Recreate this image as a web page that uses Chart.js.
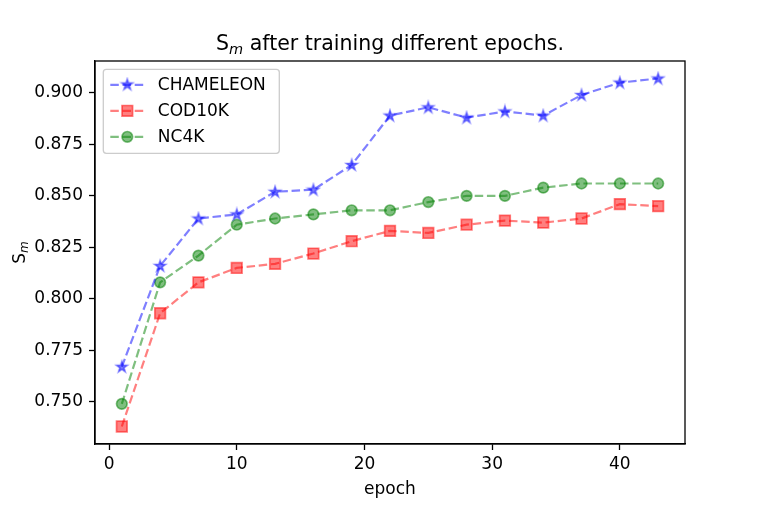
<!DOCTYPE html>
<html>
<head>
<meta charset="utf-8">
<script src="https://cdn.jsdelivr.net/npm/chart.js@4/dist/chart.umd.min.js"></script>
<style>
  html, body { margin: 0; padding: 0; background: #ffffff; }
  canvas { display: block; }
</style>
</head>
<body>
<canvas id="chart" width="761" height="508"></canvas>
<script>
// values
const epochs = [1, 4, 7, 10, 13, 16, 19, 22, 25, 28, 31, 34, 37, 40, 43];
const chameleon = [0.767, 0.816, 0.839, 0.841, 0.852, 0.853, 0.865, 0.889, 0.893, 0.888, 0.891, 0.889, 0.899, 0.905, 0.907];
const cod10k = [0.738, 0.793, 0.808, 0.815, 0.817, 0.822, 0.828, 0.833, 0.832, 0.836, 0.838, 0.837, 0.839, 0.846, 0.845];
const nc4k = [0.749, 0.808, 0.821, 0.836, 0.839, 0.841, 0.843, 0.843, 0.847, 0.850, 0.850, 0.854, 0.856, 0.856, 0.856];
const seriesNames = ["CHAMELEON", "COD10K", "NC4K"];

const FONT = "'DejaVu Sans', sans-serif";
const BLUE = "rgba(0, 0, 255, 0.5)";
const RED = "rgba(255, 0, 0, 0.5)";
const GREEN = "rgba(0, 128, 0, 0.5)";
const DASH = [8.5, 3.7];
const LW = 2.2;

// filled 5 point star like matplotlib's "*" marker
function makeStar(color) {
  const c = document.createElement("canvas");
  c.width = 16;
  c.height = 16;
  const g = c.getContext("2d");
  const R = 5.6, r = R * 0.381966;
  g.beginPath();
  for (let i = 0; i < 10; i++) {
    const rad = i % 2 === 0 ? R : r;
    const a = -Math.PI / 2 + (i * Math.PI) / 5;
    const px = 8 + rad * Math.cos(a), py = 8.3 + rad * Math.sin(a);
    if (i === 0) g.moveTo(px, py); else g.lineTo(px, py);
  }
  g.closePath();
  g.fillStyle = color;
  g.fill();
  g.lineWidth = 1.6;
  g.lineJoin = "miter";
  g.strokeStyle = color;
  g.stroke();
  return c;
}
const star = makeStar(BLUE);

function toPoints(values) {
  return epochs.map((e, i) => ({ x: e, y: values[i] }));
}

const ctx = document.getElementById("chart").getContext("2d");

// frame, title, y label and the legend box (drawn the matplotlib way)
const decor = {
  id: "decor",
  afterDatasetsDraw: (chart) => {
    const a = chart.chartArea;
    const c = chart.ctx;
    c.save();

    // all four spines
    c.strokeStyle = "#000";
    c.lineWidth = 1.3;
    c.strokeRect(a.left, a.top, a.right - a.left, a.bottom - a.top);

    // title with subscript m
    const cx = (a.left + a.right) / 2;
    const by = a.top - 11;
    c.fillStyle = "#000";
    c.textBaseline = "alphabetic";
    c.textAlign = "left";
    const big = "20.5px " + FONT, sub = "italic 14.5px " + FONT;
    const rest = " after training different epochs.";
    c.font = big;
    const wS = c.measureText("S").width, wR = c.measureText(rest).width;
    c.font = sub;
    const wm = c.measureText("m").width;
    let x0 = cx - (wS + wm + wR) / 2;
    c.font = big;
    c.fillText("S", x0, by);
    c.font = sub;
    c.fillText("m", x0 + wS, by + 3.5);
    c.font = big;
    c.fillText(rest, x0 + wS + wm, by);

    // y axis label
    c.save();
    c.translate(25, (a.top + a.bottom) / 2);
    c.rotate(-Math.PI / 2);
    c.font = "17px " + FONT;
    const ws = c.measureText("S").width;
    c.font = "italic 12px " + FONT;
    const wm2 = c.measureText("m").width;
    const sx = -(ws + wm2) / 2;
    c.font = "17px " + FONT;
    c.fillText("S", sx, 0);
    c.font = "italic 12px " + FONT;
    c.fillText("m", sx + ws, 3);
    c.restore();

    // legend
    const lx = a.left + 8.3, ly = a.top + 8.3;
    const lw = 176, lh = 84;
    c.beginPath();
    c.roundRect(lx, ly, lw, lh, 3);
    c.fillStyle = "rgba(255,255,255,0.8)";
    c.fill();
    c.strokeStyle = "#cccccc";
    c.lineWidth = 1.3;
    c.stroke();

    const colors = [BLUE, RED, GREEN];
    const hx0 = lx + 7, hx1 = hx0 + 34, mx = (hx0 + hx1) / 2;
    seriesNames.forEach((name, i) => {
      const ry = ly + 15.5 + i * 26;
      c.setLineDash(DASH);
      c.lineWidth = LW;
      c.strokeStyle = colors[i];
      c.beginPath();
      c.moveTo(hx0, ry);
      c.lineTo(hx1, ry);
      c.stroke();
      c.setLineDash([]);
      c.fillStyle = colors[i];
      c.lineWidth = 1.7;
      if (i === 0) {
        c.drawImage(star, mx - 8, ry - 8.3);
      } else if (i === 1) {
        c.beginPath();
        c.rect(mx - 5.3, ry - 5.3, 10.6, 10.6);
        c.fill();
        c.stroke();
      } else {
        c.beginPath();
        c.arc(mx, ry, 5.3, 0, Math.PI * 2);
        c.fill();
        c.stroke();
      }
      c.fillStyle = "#000";
      c.font = "17px " + FONT;
      c.textBaseline = "middle";
      c.fillText(name, hx1 + 13.5, ry + 1);
    });

    c.restore();
  },
};

new Chart(ctx, {
  type: "line",
  plugins: [decor],
  data: {
    datasets: [
      {
        label: seriesNames[0],
        data: toPoints(chameleon),
        borderColor: BLUE,
        borderWidth: LW,
        borderDash: DASH,
        pointStyle: star,
        pointRadius: 6,
        pointBackgroundColor: BLUE,
        pointBorderColor: BLUE,
        tension: 0,
      },
      {
        label: seriesNames[1],
        data: toPoints(cod10k),
        borderColor: RED,
        borderWidth: LW,
        borderDash: DASH,
        pointStyle: "rect",
        pointRadius: 7.5,
        pointBorderWidth: 1.7,
        pointBackgroundColor: RED,
        pointBorderColor: RED,
        tension: 0,
      },
      {
        label: seriesNames[2],
        data: toPoints(nc4k),
        borderColor: GREEN,
        borderWidth: LW,
        borderDash: DASH,
        pointStyle: "circle",
        pointRadius: 5.3,
        pointBorderWidth: 1.7,
        pointBackgroundColor: GREEN,
        pointBorderColor: GREEN,
        tension: 0,
      },
    ],
  },
  options: {
    responsive: false,
    devicePixelRatio: 1,
    animation: false,
    layout: { padding: { left: 0, top: 61, right: 76, bottom: 0 } },
    plugins: {
      legend: { display: false },
      title: { display: false },
      tooltip: { enabled: false },
    },
    scales: {
      x: {
        type: "linear",
        min: -1.1,
        max: 45.1,
        afterFit: (scale) => { scale.height = 64; },
        ticks: {
          stepSize: 10,
          includeBounds: false,
          color: "#000",
          padding: 4,
          font: { family: FONT, size: 17 },
        },
        grid: { drawOnChartArea: false, drawTicks: true, tickLength: 6, tickColor: "#000", tickWidth: 1.3 },
        border: { display: true, color: "#000", width: 1.3 },
        title: {
          display: true,
          text: "epoch",
          color: "#000",
          padding: { top: 0, bottom: 8 },
          font: { family: FONT, size: 17 },
        },
      },
      y: {
        min: 0.7295,
        max: 0.9155,
        afterFit: (scale) => { scale.width = 95; },
        ticks: {
          stepSize: 0.025,
          includeBounds: false,
          color: "#000",
          padding: 6,
          font: { family: FONT, size: 17 },
          callback: (v) => v.toFixed(3),
        },
        grid: { drawOnChartArea: false, drawTicks: true, tickLength: 6, tickColor: "#000", tickWidth: 1.3 },
        border: { display: true, color: "#000", width: 1.3 },
      },
    },
  },
});
</script>
</body>
</html>
